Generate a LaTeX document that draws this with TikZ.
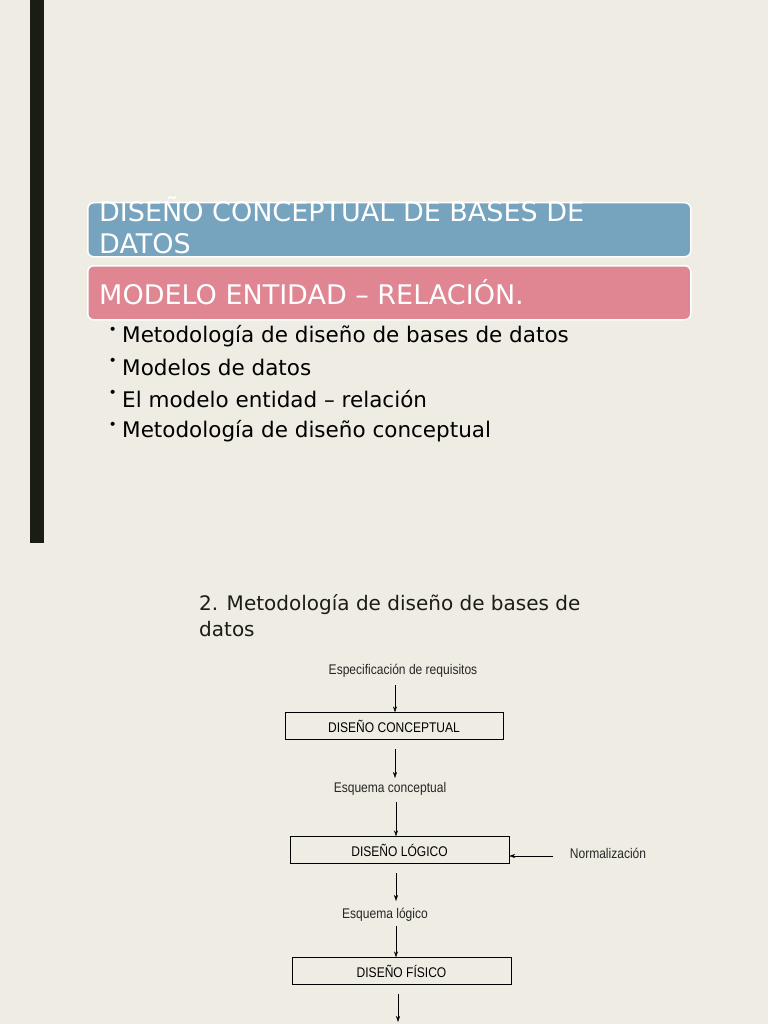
\documentclass[tikz,border=0pt]{standalone}
\usepackage{fontspec}
\usetikzlibrary{arrows.meta}
\setmainfont{DejaVu Sans}
\newfontfamily\narrow[FakeStretch=0.86]{Liberation Sans}
\definecolor{bg}{HTML}{EFECE3}
\definecolor{bar}{HTML}{1C1D12}
\definecolor{blu}{HTML}{76A3BD}
\definecolor{pnk}{HTML}{E08592}
\begin{document}
\begin{tikzpicture}[x=1pt,y=-1pt,
  hdr/.style={draw=white,line width=1.5pt,rounded corners=6pt,anchor=north west,minimum width=603pt,minimum height=54pt,text width=590pt,align=left,inner xsep=6pt,text=white,font=\fontsize{27}{30}\selectfont},
  fbox/.style={draw,thin,minimum height=27pt,font=\narrow\fontsize{14}{16}\selectfont,inner sep=0pt},
  lbl/.style={font=\narrow\fontsize{14}{16}\selectfont,text=black!85},
  bul/.style={anchor=west,font=\fontsize{21.5}{24}\selectfont,inner sep=0pt},
  arr/.style={-{Stealth[length=6pt,width=4pt]},thin}]
\fill[bg] (0,0) rectangle (768,1024);
\useasboundingbox (0,0) rectangle (768,1024);
\fill[bar] (30,0) rectangle (44,543);
\node[hdr,fill=blu,minimum height=54pt] (h1) at (87,202) {};
\node[anchor=north west,text=white,font=\fontsize{27}{32}\selectfont,align=left,inner sep=0pt] (h1t) at (99,196) {DISEÑO CONCEPTUAL DE BASES DE\\DATOS};
\node[hdr,fill=pnk] (h2) at (87,265) {};
\node[anchor=west,text=white,font=\fontsize{27}{30}\selectfont,inner sep=0pt] (h2t) at (99,292) {MODELO ENTIDAD – RELACIÓN.};
\foreach \y/\t [count=\i] in {336/Metodología de diseño de bases de datos,367/Modelos de datos,399/El modelo entidad – relación,431/Metodología de diseño conceptual}{
  \node[bul] (b\i) at (122,\y) {\t};
  \node[anchor=east,font=\fontsize{14}{14}\selectfont,inner sep=0pt] (d\i) at (117,\y-5) {•};
}
\node[anchor=north west,align=left,text=bar,font=\fontsize{20}{26}\selectfont,inner sep=0pt] (t2) at (199,594) {2. Metodología de diseño de bases de\\datos};
\node[lbl] (spec) at (403,671) {Especificación de requisitos};
\node[fbox,minimum width=218pt] (dc) at (394,726) {DISEÑO CONCEPTUAL};
\node[lbl] (ec) at (390,789) {Esquema conceptual};
\node[fbox,minimum width=219pt] (dl) at (399.5,850) {DISEÑO LÓGICO};
\node[lbl] (nor) at (608,853) {Normalización};
\node[lbl] (el) at (385,915) {Esquema lógico};
\node[fbox,minimum width=219pt] (df) at (401.5,971) {DISEÑO FÍSICO};
\coordinate (a1) at (395,685); \coordinate (a2) at (395,749); \coordinate (a2e) at (395,778);
\coordinate (a3) at (396,802); \coordinate (a4) at (396,873); \coordinate (a4e) at (396,901);
\coordinate (a5) at (396,926); \coordinate (a6) at (398,994); \coordinate (a6e) at (398,1022);
\coordinate (n1) at (553,856);
\draw[arr] (a1) -- (a1 |- dc.north);
\draw[arr] (a2) -- (a2e);
\draw[arr] (a3) -- (a3 |- dl.north);
\draw[arr] (n1) -- (n1 -| dl.east);
\draw[arr] (a4) -- (a4e);
\draw[arr] (a5) -- (a5 |- df.north);
\draw[arr] (a6) -- (a6e);
\end{tikzpicture}
\end{document}
